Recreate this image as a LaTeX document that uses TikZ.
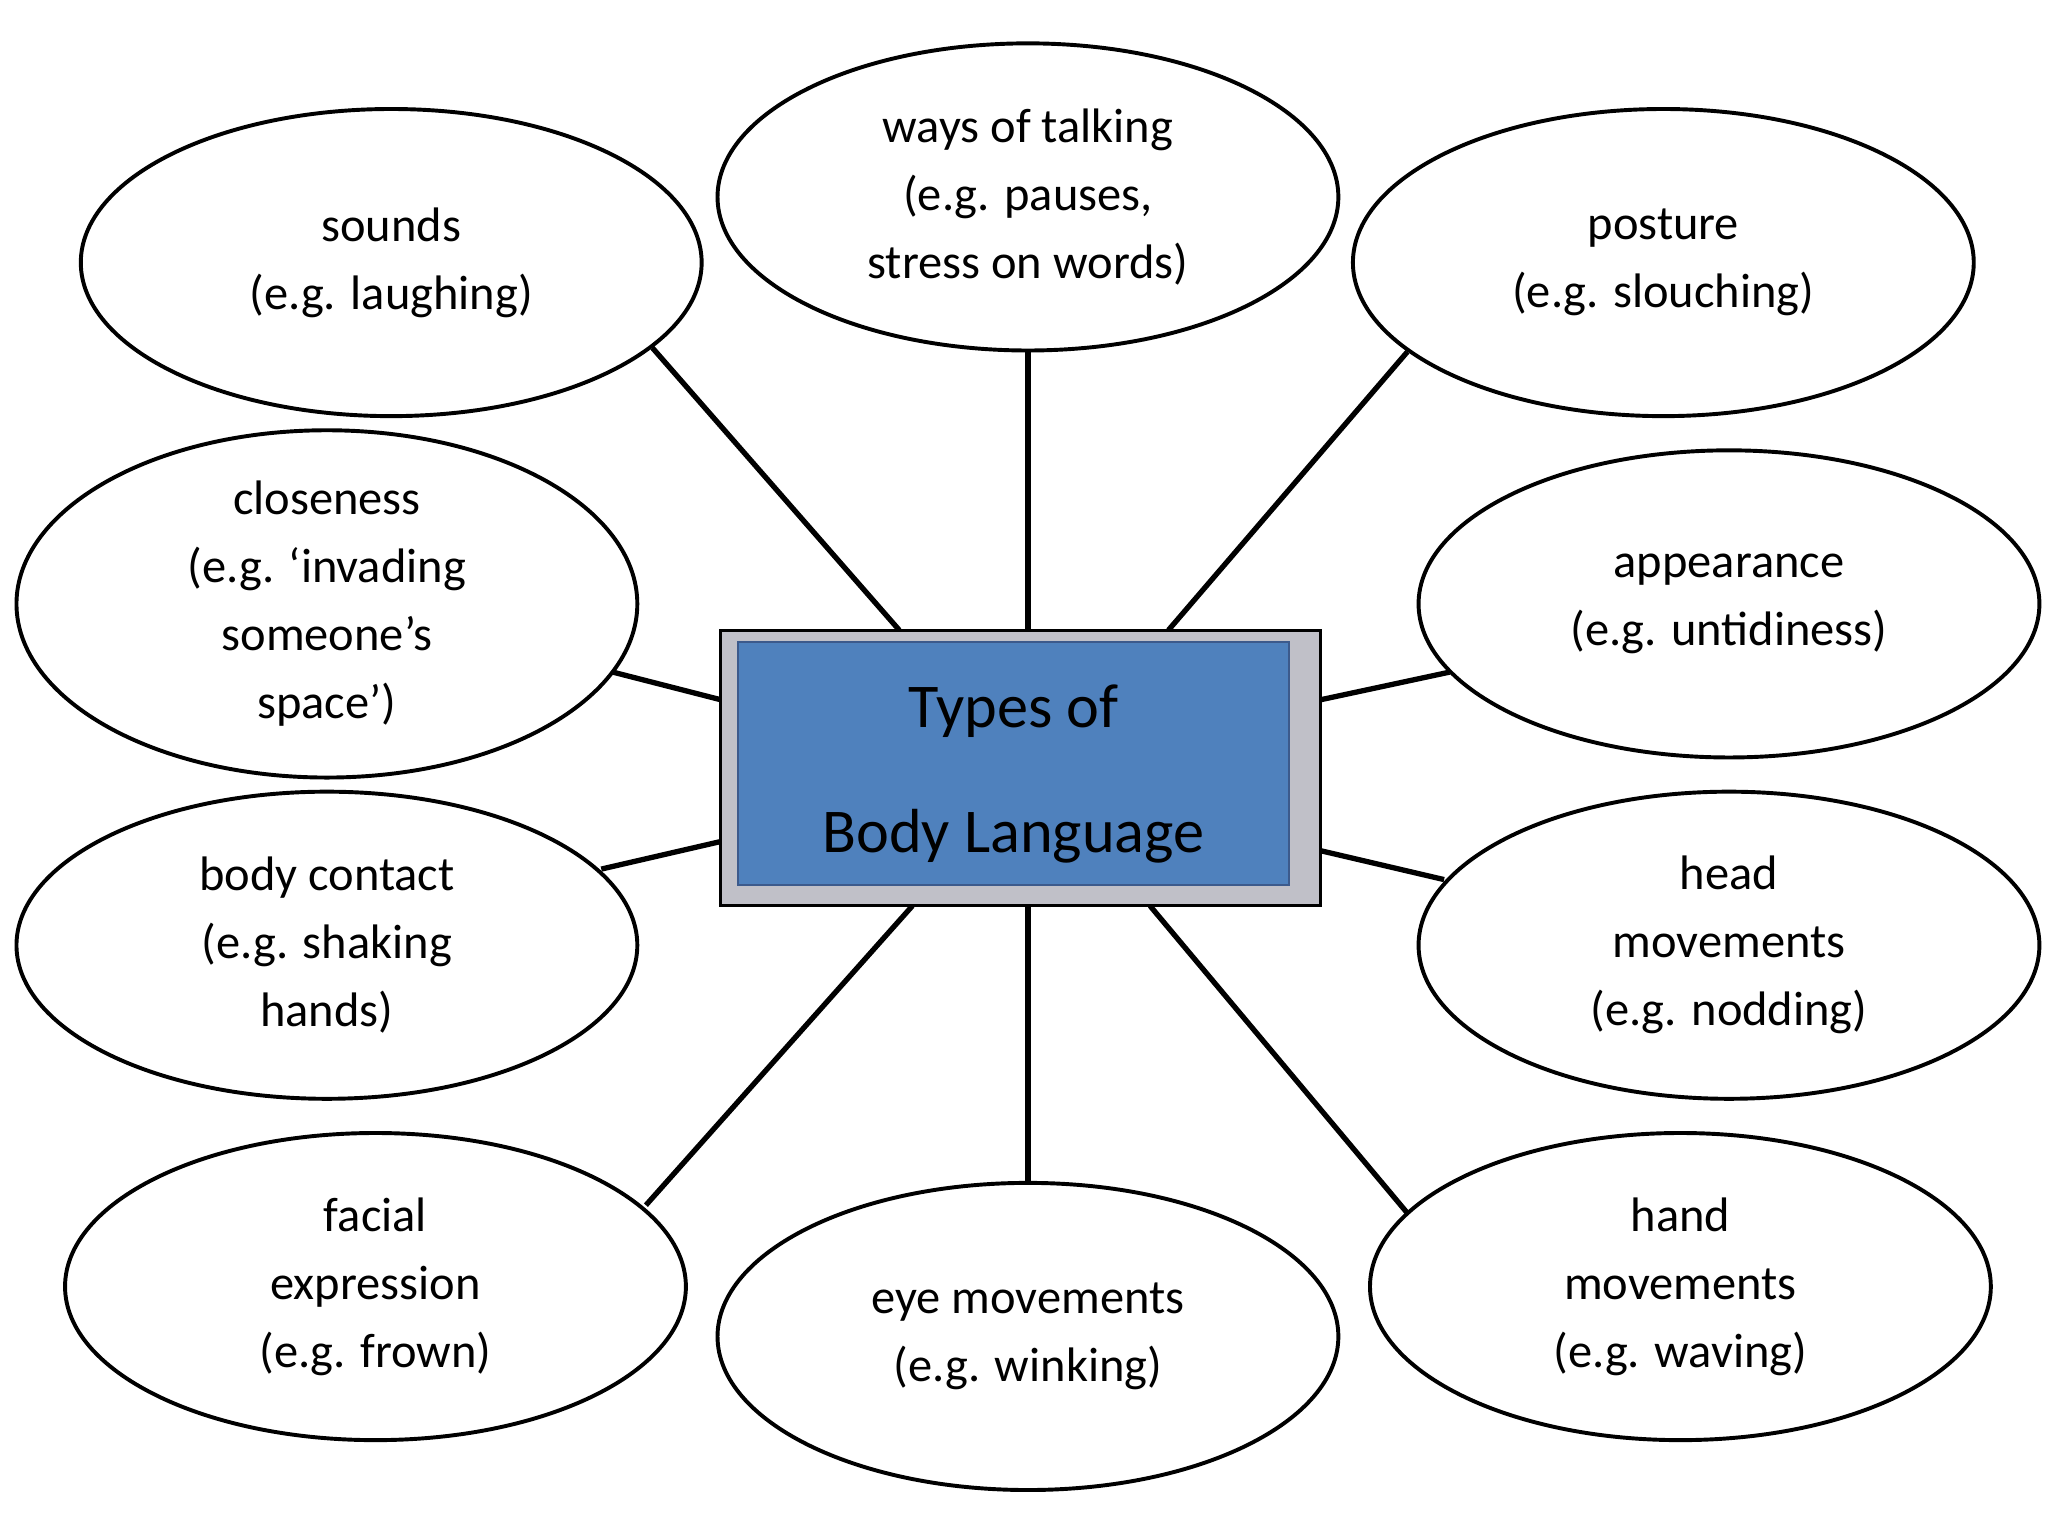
\documentclass[tikz,border=0pt]{standalone}
\usepackage{fontspec}
\setmainfont{Carlito}
\usetikzlibrary{shapes.geometric}
\begin{document}
\begin{tikzpicture}[x=0.02cm,y=-0.02cm,
  oval/.style={ellipse,draw=black,line width=1.7pt,fill=white,minimum width=9.46cm,minimum height=4.68cm,align=center,inner sep=0pt,font=\fontsize{21}{29.5}\selectfont},
  link/.style={line width=2.3pt,black}]
\useasboundingbox (0,0) rectangle (1560,1170);
\fill[white] (0,0) rectangle (1560,1170);
% connector endpoints
\coordinate (s1) at (497,265); \coordinate (s2) at (685,480);
\coordinate (t1) at (783,268); \coordinate (t2) at (783,480);
\coordinate (p1) at (1072,268); \coordinate (p2) at (890,480);
\coordinate (c1) at (467,512); \coordinate (c2) at (549,533);
\coordinate (a1) at (1104,512); \coordinate (a2) at (1006,533);
\coordinate (b1) at (458,662); \coordinate (b2) at (549,641);
\coordinate (h1) at (1100,670); \coordinate (h2) at (1006,648);
\coordinate (f1) at (492,918); \coordinate (f2) at (695,690);
\coordinate (e1) at (783,900); \coordinate (e2) at (783,690);
\coordinate (w1) at (1072,924); \coordinate (w2) at (876,690);
\foreach \u/\v in {s1/s2,t1/t2,p1/p2,c1/c2,a1/a2,b1/b2,h1/h2,f1/f2,e1/e2,w1/w2}
  \draw[link] (\u) -- (\v);
% ellipses
\node[oval] (sounds) at (298,200) {sounds\\(e.g. laughing)};
\node[oval] (talking) at (783,150) {ways of talking\\(e.g. pauses,\\stress on words)};
\node[oval] (posture) at (1267,200) {posture\\(e.g. slouching)};
\node[oval] (close) at (249,460) {closeness\\(e.g. ‘invading\\someone’s\\space’)};
\node[oval] (appear) at (1317,460) {appearance\\(e.g. untidiness)};
\node[oval] (contact) at (249,720) {body contact\\(e.g. shaking\\hands)};
\node[oval] (head) at (1317,720) {head\\movements\\(e.g. nodding)};
\node[oval] (facial) at (286,980) {facial\\expression\\(e.g. frown)};
\node[oval] (eye) at (783,1018) {eye movements\\(e.g. winking)};
\node[oval] (hand) at (1280,980) {hand\\movements\\(e.g. waving)};
% central box
\draw[line width=1.2pt,fill={rgb,255:red,192;green,192;blue,200}] (549,480) rectangle (1006,690);
\node[draw={rgb,255:red,60;green,90;blue,140},line width=1pt,fill={rgb,255:red,79;green,129;blue,189},minimum width=8.4cm,minimum height=3.7cm,inner sep=0pt] (box) at (772,581.5) {};
\node[font=\fontsize{27}{38}\selectfont] (t) at (772,542) {Types of};
\node[font=\fontsize{27}{38}\selectfont] (t2l) at (772,637) {Body Language};
\end{tikzpicture}
\end{document}
